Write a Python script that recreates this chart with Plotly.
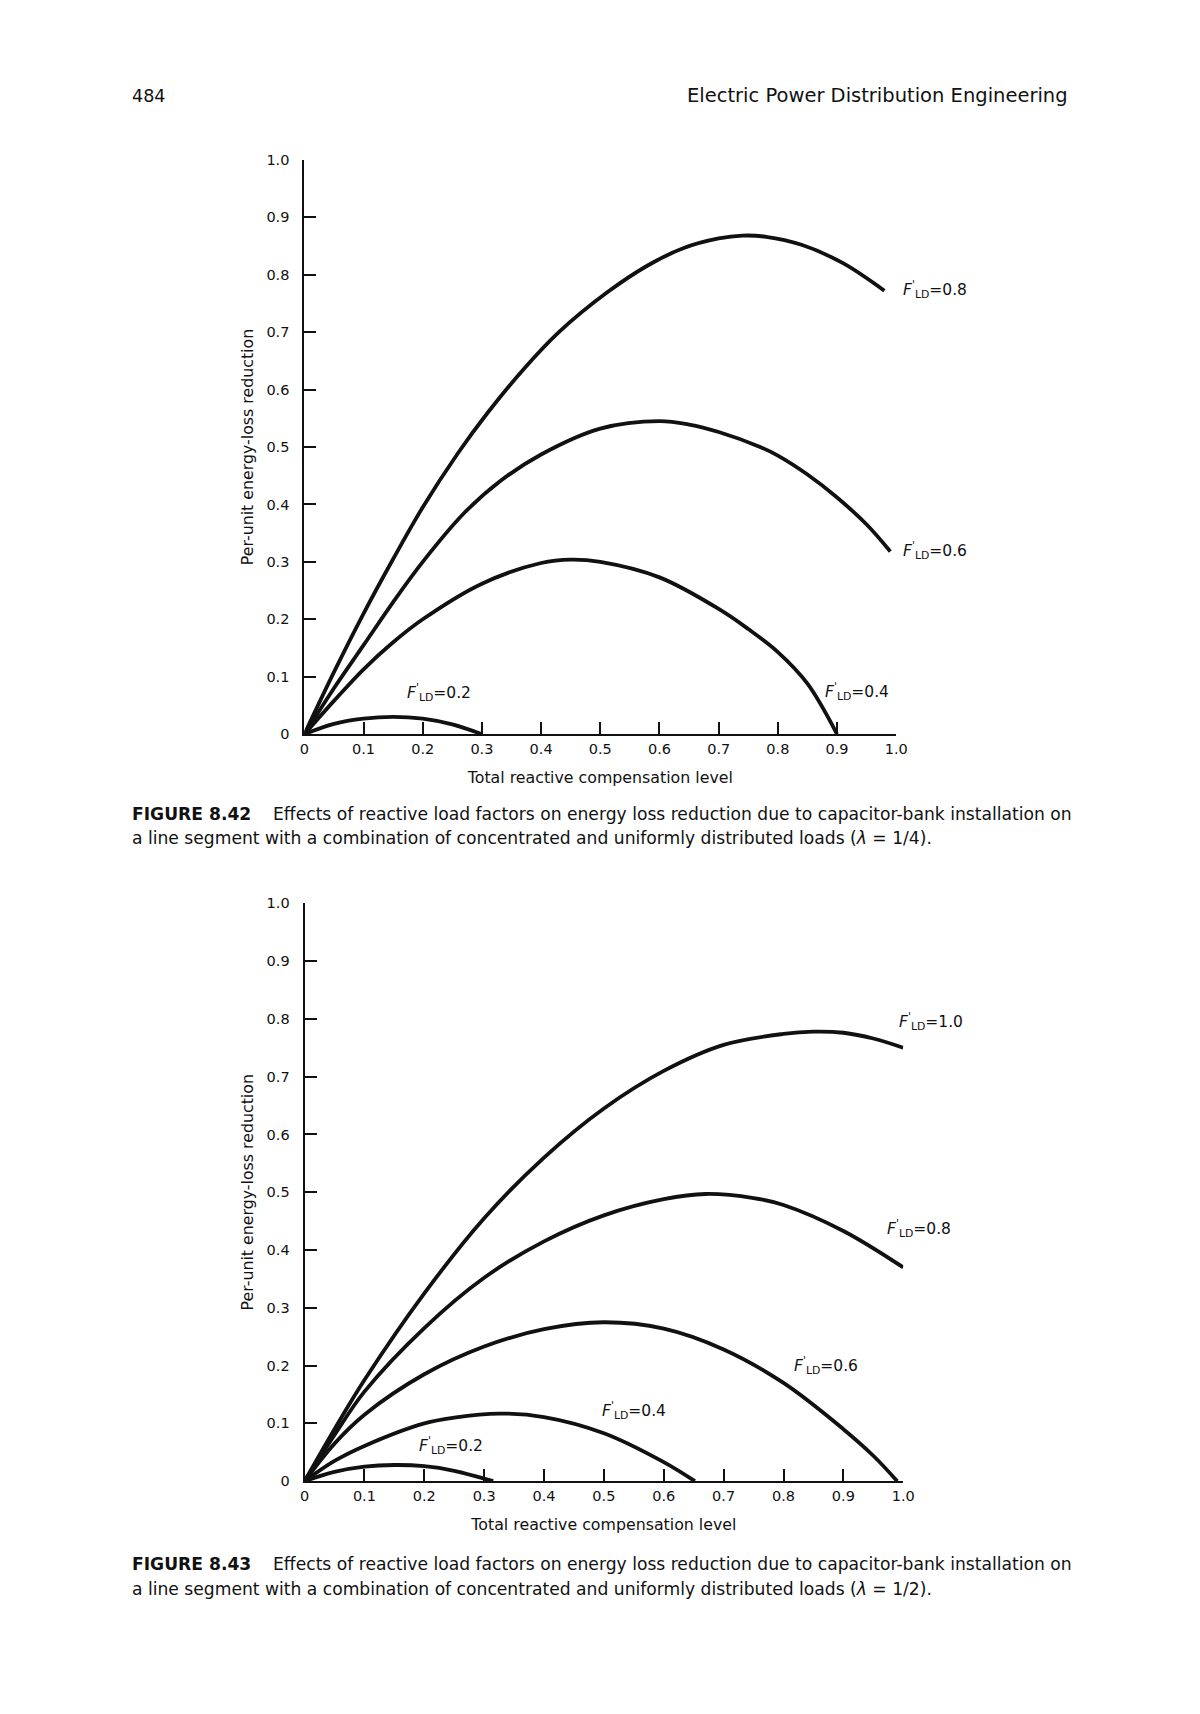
import plotly.graph_objects as go

# ---------------- data ----------------
# Figure 8.42  (lambda = 1/4)
top_labels = ["0.8", "0.6", "0.4", "0.2"]
top_x_08 = [0, 0.05, 0.1, 0.15, 0.2, 0.26, 0.31, 0.37, 0.43, 0.51, 0.58, 0.64, 0.7, 0.74, 0.78, 0.84, 0.91, 0.98]
top_y_08 = [0, 0.108, 0.21, 0.305, 0.395, 0.49, 0.56, 0.635, 0.70, 0.768, 0.816, 0.846, 0.863, 0.868, 0.866, 0.852, 0.82, 0.772]
top_x_06 = [0, 0.05, 0.1, 0.15, 0.2, 0.27, 0.33, 0.4, 0.5, 0.6, 0.65, 0.7, 0.77, 0.8, 0.85, 0.9, 0.95, 0.99]
top_y_06 = [0, 0.08, 0.155, 0.23, 0.30, 0.385, 0.44, 0.487, 0.532, 0.545, 0.539, 0.526, 0.50, 0.485, 0.452, 0.412, 0.365, 0.318]
top_x_04 = [0, 0.05, 0.1, 0.15, 0.2, 0.3, 0.4, 0.45, 0.5, 0.6, 0.7, 0.75, 0.8, 0.85, 0.9]
top_y_04 = [0, 0.058, 0.113, 0.16, 0.2, 0.262, 0.298, 0.304, 0.300, 0.273, 0.218, 0.183, 0.143, 0.088, 0]
top_x_02 = [0, 0.05, 0.1, 0.15, 0.2, 0.25, 0.3]
top_y_02 = [0, 0.018, 0.027, 0.030, 0.027, 0.017, 0]
top_label_x = [1.008, 1.008, 0.877, 0.17]
top_label_y = [0.775, 0.319, 0.074, 0.072]

# Figure 8.43  (lambda = 1/2)
bot_labels = ["1.0", "0.8", "0.6", "0.4", "0.2"]
bot_x_10 = [0, 0.05, 0.1, 0.2, 0.3, 0.4, 0.5, 0.6, 0.7, 0.8, 0.85, 0.9, 0.95, 1.0]
bot_y_10 = [0, 0.09, 0.175, 0.325, 0.455, 0.56, 0.645, 0.71, 0.755, 0.774, 0.778, 0.776, 0.766, 0.75]
bot_x_08 = [0, 0.05, 0.1, 0.2, 0.3, 0.4, 0.5, 0.6, 0.67, 0.75, 0.8, 0.9, 1.0]
bot_y_08 = [0, 0.08, 0.155, 0.265, 0.352, 0.415, 0.46, 0.488, 0.497, 0.49, 0.478, 0.433, 0.37]
bot_x_06 = [0, 0.05, 0.1, 0.2, 0.3, 0.4, 0.5, 0.6, 0.7, 0.8, 0.9, 0.95, 0.99]
bot_y_06 = [0, 0.065, 0.115, 0.185, 0.233, 0.263, 0.275, 0.264, 0.228, 0.17, 0.09, 0.044, 0]
bot_x_04 = [0, 0.05, 0.1, 0.2, 0.25, 0.325, 0.4, 0.5, 0.6, 0.652]
bot_y_04 = [0, 0.035, 0.061, 0.1, 0.11, 0.117, 0.111, 0.083, 0.033, 0]
bot_x_02 = [0, 0.05, 0.1, 0.15, 0.2, 0.25, 0.315]
bot_y_02 = [0, 0.016, 0.025, 0.028, 0.026, 0.018, 0]
bot_label_x = [0.99, 0.969, 0.815, 0.493, 0.188]
bot_label_y = [0.796, 0.437, 0.201, 0.122, 0.062]

tick_vals = [0, 0.1, 0.2, 0.3, 0.4, 0.5, 0.6, 0.7, 0.8, 0.9, 1.0]
tick_text = ["0", "0.1", "0.2", "0.3", "0.4", "0.5", "0.6", "0.7", "0.8", "0.9", "1.0"]

x_title = "Total reactive compensation level"
y_title = "Per-unit energy-loss reduction"
header_left = "484"
header_right = "Electric Power Distribution Engineering"
caption_top = ["<b>FIGURE 8.42</b>\u00a0\u00a0\u00a0\u00a0Effects of reactive load factors on energy loss reduction due to capacitor-bank installation on",
               "a line segment with a combination of concentrated and uniformly distributed loads (<i>λ</i> = 1/4)."]
caption_bot = ["<b>FIGURE 8.43</b>\u00a0\u00a0\u00a0\u00a0Effects of reactive load factors on energy loss reduction due to capacitor-bank installation on",
               "a line segment with a combination of concentrated and uniformly distributed loads (<i>λ</i> = 1/2)."]

# ---------------- figure ----------------
FONT = "DejaVu Sans"
INK = "#111111"
W, H = 1200, 1714
# observed page placement of the figure in the photographed window
SX, CX, SY, CY = 0.988, 11.3, 0.990, 16.3


def xp(px):
    return ((px - CX) / SX) / W


def yp(px):
    return 1 - ((px - CY) / SY) / H


fig = go.Figure()

top_series = [(top_x_08, top_y_08), (top_x_06, top_y_06), (top_x_04, top_y_04), (top_x_02, top_y_02)]
bot_series = [(bot_x_10, bot_y_10), (bot_x_08, bot_y_08), (bot_x_06, bot_y_06), (bot_x_04, bot_y_04), (bot_x_02, bot_y_02)]

for (xs, ys), lab in zip(top_series, top_labels):
    fig.add_trace(go.Scatter(x=xs, y=ys, mode="lines", xaxis="x", yaxis="y",
                             line=dict(color=INK, width=3.8, shape="spline", smoothing=1.0),
                             name="F'LD=" + lab, hoverinfo="skip"))
for (xs, ys), lab in zip(bot_series, bot_labels):
    fig.add_trace(go.Scatter(x=xs, y=ys, mode="lines", xaxis="x2", yaxis="y2",
                             line=dict(color=INK, width=3.8, shape="spline", smoothing=1.0),
                             name="F'LD=" + lab, hoverinfo="skip"))


def lbl(v):
    return "<i>F</i><sup>'</sup><sub>LD</sub>=" + v


LBL_FONT = dict(family=FONT, size=15.5, color=INK)
annotations = []
for lab, lx, ly in zip(top_labels, top_label_x, top_label_y):
    annotations.append(dict(x=lx, y=ly, xref="x domain", yref="y domain", text=lbl(lab), showarrow=False,
                            xanchor="left", yanchor="middle", font=LBL_FONT))
for lab, lx, ly in zip(bot_labels, bot_label_x, bot_label_y):
    annotations.append(dict(x=lx, y=ly, xref="x2 domain", yref="y2 domain", text=lbl(lab), showarrow=False,
                            xanchor="left", yanchor="middle", font=LBL_FONT))

annotations += [
    dict(x=xp(129), y=yp(96), xref="paper", yref="paper", text=header_left, showarrow=False,
         xanchor="left", yanchor="middle", font=dict(family=FONT, size=17.5, color=INK)),
    dict(x=xp(1071), y=yp(96), xref="paper", yref="paper", text=header_right, showarrow=False,
         xanchor="right", yanchor="middle", font=dict(family=FONT, size=19.5, color=INK)),
]
for line, ypx in zip(caption_top, [814, 838]):
    annotations.append(dict(x=xp(129), y=yp(ypx), xref="paper", yref="paper", text=line, showarrow=False,
                            xanchor="left", yanchor="middle", align="left",
                            font=dict(family=FONT, size=17.15, color=INK)))
for line, ypx in zip(caption_bot, [1563, 1588]):
    annotations.append(dict(x=xp(129), y=yp(ypx), xref="paper", yref="paper", text=line, showarrow=False,
                            xanchor="left", yanchor="middle", align="left",
                            font=dict(family=FONT, size=17.15, color=INK)))


def xaxis_cfg(domain, anchor):
    return dict(domain=domain, anchor=anchor, range=[0, 1.0], tickvals=tick_vals, ticktext=tick_text,
                showline=True, linecolor=INK, linewidth=2, ticks="inside", ticklen=12, tickwidth=2,
                tickcolor=INK, showgrid=False, zeroline=False, fixedrange=True,
                tickfont=dict(family=FONT, size=14.5, color=INK),
                title=dict(text=x_title, font=dict(family=FONT, size=15.8, color=INK), standoff=16))


def yaxis_cfg(domain, anchor):
    return dict(domain=domain, anchor=anchor, range=[0, 1.0], tickvals=tick_vals, ticktext=tick_text,
                showline=True, linecolor=INK, linewidth=2, ticks="inside", ticklen=12, tickwidth=2,
                tickcolor=INK, showgrid=False, zeroline=False, fixedrange=True,
                ticklabelstandoff=10,
                tickfont=dict(family=FONT, size=14.5, color=INK),
                title=dict(text=y_title, font=dict(family=FONT, size=15.8, color=INK), standoff=9))


fig.update_layout(
    width=W, height=H,
    margin=dict(l=0, r=0, t=0, b=0),
    paper_bgcolor="white", plot_bgcolor="white",
    showlegend=False,
    xaxis=xaxis_cfg([xp(303.3), xp(896.5)], "y"),
    yaxis=yaxis_cfg([yp(734), yp(160)], "x"),
    xaxis2=xaxis_cfg([xp(303.5), xp(903.5)], "y2"),
    yaxis2=yaxis_cfg([yp(1480.5), yp(903)], "x2"),
    annotations=annotations,
)

fig.write_html("out.html")
